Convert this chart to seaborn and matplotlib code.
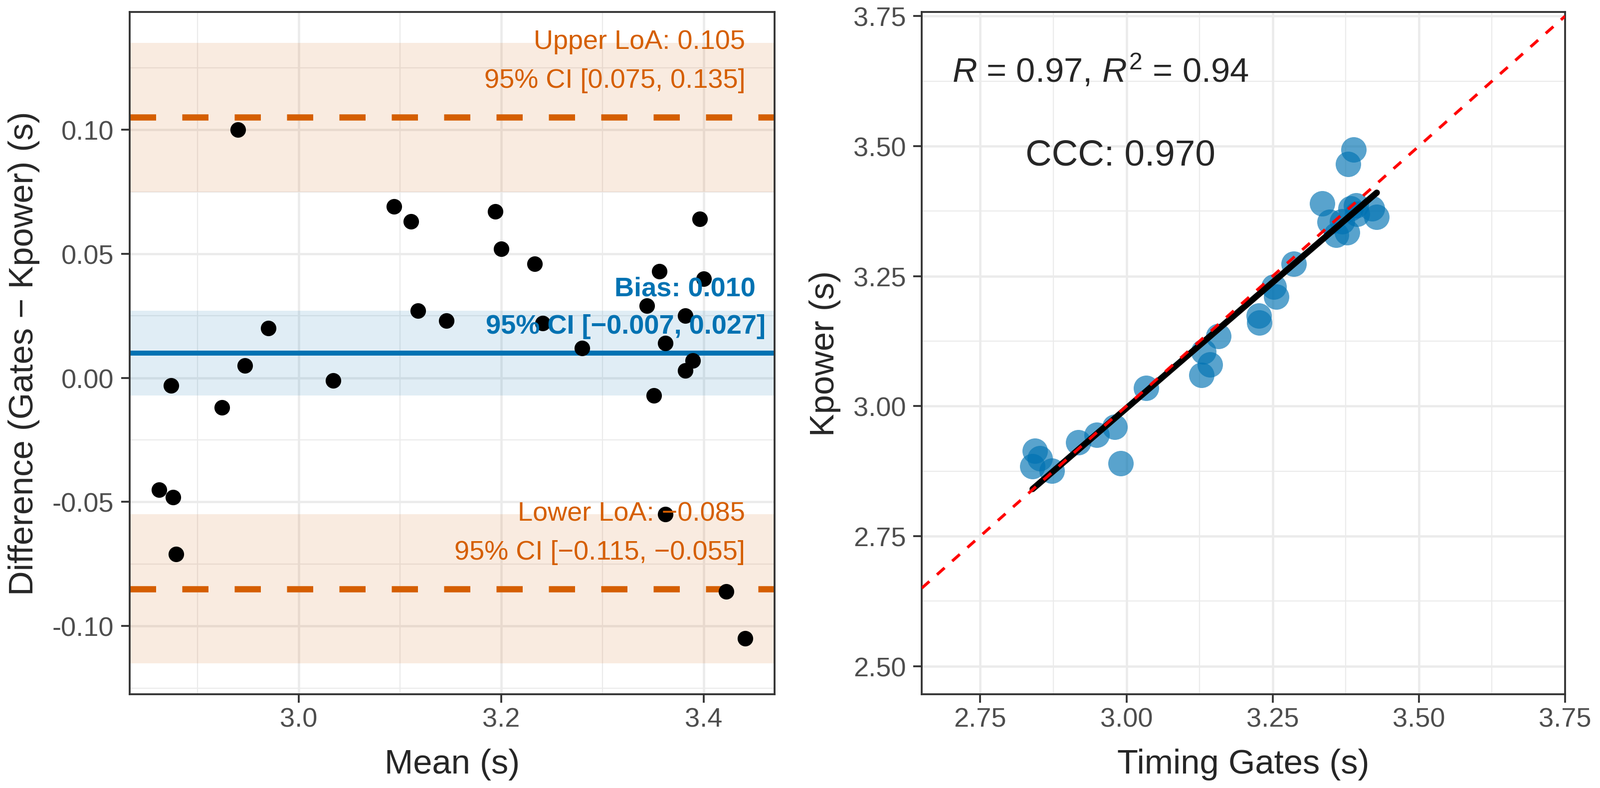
import numpy as np
import pandas as pd
import seaborn as sns
import matplotlib.pyplot as plt
from matplotlib.ticker import MultipleLocator, FormatStrFormatter

# raw sprint times (s), one pair per athlete
gates = [2.990, 3.1285, 3.1425, 3.2275, 3.226, 3.256, 3.3775, 3.428, 3.420, 3.3585,
         3.3945, 3.1315, 3.1575, 3.252, 2.980, 3.286, 3.369, 3.3925, 3.3835, 2.9495,
         3.0335, 2.8725, 3.3475, 2.918, 2.8395, 2.852, 2.8435, 3.3345, 3.379, 3.3885]
kpower = [2.890, 3.0595, 3.0795, 3.1605, 3.174, 3.210, 3.3345, 3.364, 3.380, 3.3295,
          3.3695, 3.1045, 3.1345, 3.230, 2.960, 3.274, 3.355, 3.3855, 3.3805, 2.9445,
          3.0345, 2.8755, 3.3545, 2.930, 2.8845, 2.900, 2.9145, 3.3895, 3.465, 3.4935]

# agreement stats shown on the chart
bias = 0.010
bias_ci = (-0.007, 0.027)
upper_loa = 0.105
upper_ci = (0.075, 0.135)
lower_loa = -0.085
lower_ci = (-0.115, -0.055)
r_val = 0.97
r_sq = 0.94
ccc = 0.970

df = pd.DataFrame({'gates': gates, 'kpower': kpower})
df['mean'] = (df['gates'] + df['kpower']) / 2
df['diff'] = df['gates'] - df['kpower']

sns.set_style('white')
plt.rcParams['font.family'] = ['Liberation Sans', 'DejaVu Sans']
plt.rcParams['mathtext.fontset'] = 'custom'
plt.rcParams['mathtext.rm'] = 'Liberation Sans'
plt.rcParams['mathtext.it'] = 'Liberation Sans:italic'

BLUE = '#0072B2'
ORANGE = '#D55E00'
GRID = '#EBEBEB'


def fmt(v):
    return f'{v:.3f}'.replace('-', '\u2212')


def style_axes(ax):
    ax.set_axisbelow(True)
    ax.grid(which='major', color=GRID, lw=1.1)
    ax.grid(which='minor', color=GRID, lw=0.55)
    for sp in ax.spines.values():
        sp.set_color('#333333')
        sp.set_linewidth(0.9)
        sp.set_visible(True)
    ax.tick_params(which='major', length=4, width=0.9, color='#333333',
                   labelsize=13, labelcolor='#4D4D4D', pad=3.5,
                   bottom=True, left=True)
    ax.tick_params(axis='x', which='major', pad=2)
    ax.tick_params(which='minor', length=0)


fig = plt.figure(figsize=(3208 / 300, 1581 / 300), dpi=300)
ax1 = fig.add_axes([0.0810, 0.1189, 0.4031, 0.8653])
ax2 = fig.add_axes([0.5761, 0.1189, 0.4021, 0.8653])

# ---- Bland-Altman ----
ax1.axhspan(*upper_ci, color=ORANGE, alpha=0.12, lw=0)
ax1.axhspan(*lower_ci, color=ORANGE, alpha=0.12, lw=0)
ax1.axhspan(*bias_ci, color=BLUE, alpha=0.12, lw=0)
ax1.axhline(bias, color=BLUE, lw=2.4)
ax1.axhline(upper_loa, color=ORANGE, lw=3, dashes=(4.2, 4.2))
ax1.axhline(lower_loa, color=ORANGE, lw=3, dashes=(4.2, 4.2))
sns.scatterplot(data=df, x='mean', y='diff', color='black', s=56,
                linewidth=0, zorder=3, ax=ax1)

ax1.text(3.441, 0.1356, f'Upper LoA: {fmt(upper_loa)}', color=ORANGE,
         fontsize=13, ha='right', va='center')
ax1.text(3.441, 0.1200, f'95% CI [{fmt(upper_ci[0])}, {fmt(upper_ci[1])}]',
         color=ORANGE, fontsize=13, ha='right', va='center')
ax1.text(3.451, 0.0360, f'Bias: {fmt(bias)}', color=BLUE, fontsize=13,
         fontweight='bold', ha='right', va='center')
ax1.text(3.461, 0.0208, f'95% CI [{fmt(bias_ci[0])}, {fmt(bias_ci[1])}]',
         color=BLUE, fontsize=13, fontweight='bold', ha='right', va='center')
ax1.text(3.441, -0.0546, f'Lower LoA: {fmt(lower_loa)}', color=ORANGE,
         fontsize=13, ha='right', va='center')
ax1.text(3.441, -0.0702, f'95% CI [{fmt(lower_ci[0])}, {fmt(lower_ci[1])}]',
         color=ORANGE, fontsize=13, ha='right', va='center')

xr = df['mean'].max() - df['mean'].min()
ax1.set_xlim(df['mean'].min() - 0.05 * xr, df['mean'].max() + 0.05 * xr)
yr = upper_ci[1] - lower_ci[0]
ax1.set_ylim(lower_ci[0] - 0.05 * yr, upper_ci[1] + 0.05 * yr)
ax1.xaxis.set_major_locator(MultipleLocator(0.2))
ax1.xaxis.set_minor_locator(MultipleLocator(0.1))
ax1.yaxis.set_major_locator(MultipleLocator(0.05))
ax1.yaxis.set_minor_locator(MultipleLocator(0.025))
ax1.xaxis.set_major_formatter(FormatStrFormatter('%.1f'))
ax1.yaxis.set_major_formatter(FormatStrFormatter('%.2f'))
style_axes(ax1)
ax1.set_xlabel('Mean (s)', fontsize=16.5, labelpad=8)
ax1.set_ylabel('Difference (Gates \u2212 Kpower) (s)', fontsize=16.5, labelpad=6)

# ---- correlation ----
sns.scatterplot(data=df, x='gates', y='kpower', color=BLUE, alpha=0.65, s=150,
                linewidth=0, zorder=3, ax=ax2)
sns.regplot(data=df, x='gates', y='kpower', scatter=False, ci=None,
            color='black', line_kws={'lw': 3.0, 'zorder': 4}, ax=ax2)
ax2.axline((3.0, 3.0), slope=1, color='red', lw=1.4,
           linestyle=(0, (3.5, 3.5)), zorder=5)

ax2.text(2.702, 3.645, rf'$R$ = {r_val:.2f}, $R^2$ = {r_sq:.2f}', fontsize=16.5,
         ha='left', va='center')
ax2.text(2.990, 3.482, f'CCC: {ccc:.3f}', fontsize=17.5, ha='center', va='center')

ax2.set_xlim(2.65, 3.75)
ax2.set_ylim(2.446, 3.758)
ax2.xaxis.set_major_locator(MultipleLocator(0.25))
ax2.xaxis.set_minor_locator(MultipleLocator(0.125))
ax2.yaxis.set_major_locator(MultipleLocator(0.25))
ax2.yaxis.set_minor_locator(MultipleLocator(0.125))
ax2.xaxis.set_major_formatter(FormatStrFormatter('%.2f'))
ax2.yaxis.set_major_formatter(FormatStrFormatter('%.2f'))
style_axes(ax2)
ax2.set_xlabel('Timing Gates (s)', fontsize=16.5, labelpad=8)
ax2.set_ylabel('Kpower (s)', fontsize=16.5, labelpad=6)

fig.savefig('out.png', dpi=300)
